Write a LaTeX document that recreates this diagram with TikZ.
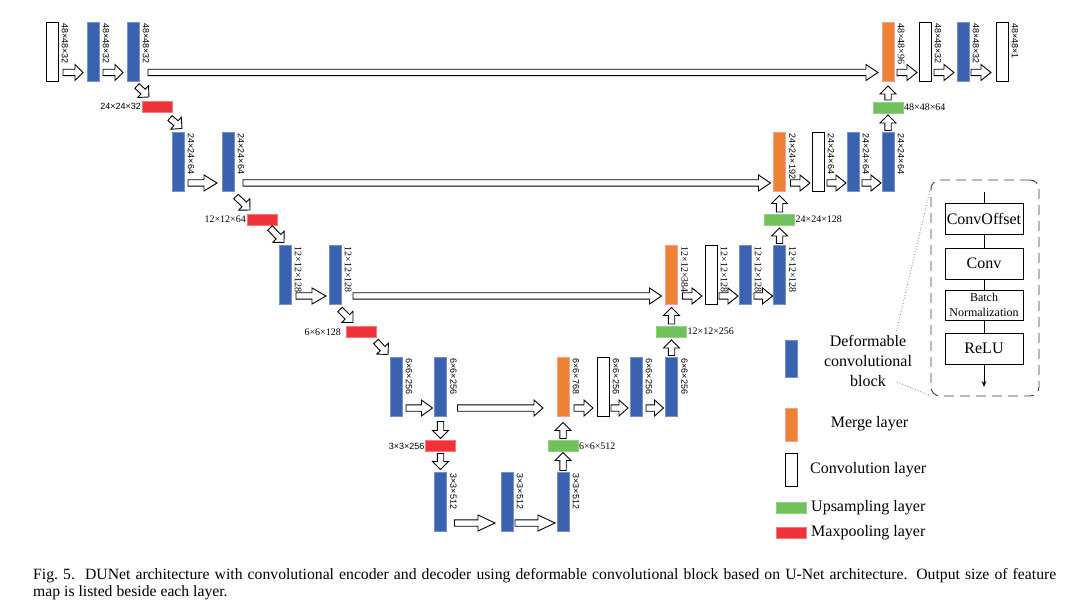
\documentclass[tikz,border=0pt]{standalone}
\usepackage{fontspec}
\setmainfont{Liberation Serif}
\newfontfamily\lsans{Liberation Sans}
\usetikzlibrary{calc,arrows.meta}
\definecolor{dblue}{HTML}{3A62AE}
\definecolor{dblueb}{HTML}{7392CC}
\definecolor{morange}{HTML}{EE8234}
\definecolor{morangeb}{HTML}{F4A090}
\definecolor{ugreen}{HTML}{70C15C}
\definecolor{ugreenb}{HTML}{92D27E}
\definecolor{pred}{HTML}{EE3237}
\definecolor{predb}{HTML}{F27A7A}
\definecolor{dashc}{HTML}{404040}
\tikzset{
  blk/.style={minimum width=12pt, minimum height=59pt, inner sep=0pt, outer sep=0pt, line width=0.6pt},
  dcb/.style={blk, fill=dblue, draw=dblueb},
  mrg/.style={blk, fill=morange, draw=morangeb},
  cnv/.style={blk, fill=white, draw=black, line width=0.9pt},
  hblk/.style={minimum width=30pt, minimum height=11pt, inner sep=0pt, outer sep=0pt, line width=0.6pt},
  ups/.style={hblk, fill=ugreen, draw=ugreenb},
  mxp/.style={hblk, fill=pred, draw=predb},
  vls/.style={rotate=-90, anchor=south west, inner sep=1pt, font=\lsans\fontsize{9}{10}\selectfont},
  vlr/.style={rotate=-90, anchor=south west, inner sep=1pt, font=\fontsize{10}{11}\selectfont},
  hls/.style={inner sep=1pt, font=\lsans\fontsize{9}{10}\selectfont},
  hlr/.style={inner sep=1pt, font=\fontsize{10}{11}\selectfont},
  barr/.style={draw=black, fill=white, line width=0.9pt, line join=miter},
  subbox/.style={draw=black, line width=0.8pt, minimum width=78pt, minimum height=31pt, inner sep=0pt, font=\fontsize{16}{18}\selectfont},
  legtxt/.style={inner sep=0pt, font=\fontsize{16}{20}\selectfont},
}
\newcommand\blkarrow[3][9]{%
  \draw[barr] let \p1=#2, \p2=#3,
    \n1={atan2(\y2-\y1,\x2-\x1)}, \n2={veclen(\x2-\x1,\y2-\y1)} in
    [shift={(\x1,\y1)}, rotate=\n1]
    (0,-3.2) -- (\n2-#1,-3.2) -- (\n2-#1,-8) -- (\n2,0) -- (\n2-#1,8) -- (\n2-#1,3.2) -- (0,3.2) -- cycle;}
\newcommand\arrH[5][9]{\blkarrow[#1]{($(#2.south east)+(#4,-8.5)$)}{($(#3.south west)+(-#5,-8.5)$)}}
\newcommand\arrD[5][8]{\blkarrow[#1]{($(#2.south)+(0,#4)$)}{($(#3.north)+(0,-#5)$)}}
\newcommand\arrU[5][8]{\blkarrow[#1]{($(#2.north)+(0,-#4)$)}{($(#3.south)+(0,#5)$)}}
\newcommand\vlab[3][vls]{\node[#1] (l#2) at ($(#2.north east)+(2.5,0)$) {#3};}
\begin{document}
\begin{tikzpicture}[x=1pt,y=-1pt]
\fill[white] (0,0) rectangle (1090,612);
\useasboundingbox (0,0) rectangle (1090,612);
% ---------- encoder ----------
\node[cnv] (in1) at (52,51.5) {};
\node[dcb] (e1a) at (93,51.5) {};
\node[dcb] (e1b) at (133,51.5) {};
\node[mxp] (p1) at (157,106.5) {};
\node[dcb] (e2a) at (178,162) {};
\node[dcb] (e2b) at (228,162) {};
\node[mxp] (p2) at (262,219.5) {};
\node[dcb] (e3a) at (285,275) {};
\node[dcb] (e3b) at (335,275) {};
\node[mxp] (p3) at (361,332) {};
\node[dcb] (e4a) at (396,387) {};
\node[dcb] (e4b) at (440.5,387) {};
\node[mxp] (p4) at (440.5,446) {};
\node[dcb] (b5a) at (440.5,502) {};
\node[dcb] (b5b) at (507,502) {};
\node[dcb] (b5c) at (563,502) {};
% ---------- decoder ----------
\node[ups] (u4) at (563,446) {};
\node[mrg] (m4) at (563,387) {};
\node[cnv] (c4) at (603,387) {};
\node[dcb] (d4a) at (636,387) {};
\node[dcb] (d4b) at (671.5,387) {};
\node[ups] (u3) at (671.5,331.5) {};
\node[mrg] (m3) at (671.5,275) {};
\node[cnv] (c3) at (711,275) {};
\node[dcb] (d3a) at (745,275) {};
\node[dcb] (d3b) at (779.5,275) {};
\node[ups] (u2) at (779.5,219.5) {};
\node[mrg] (m2) at (779.5,162) {};
\node[cnv] (c2) at (818,162) {};
\node[dcb] (d2a) at (853,162) {};
\node[dcb] (d2b) at (888,162) {};
\node[ups] (u1) at (888,107.5) {};
\node[mrg] (m1) at (888,51.5) {};
\node[cnv] (c1) at (925,51.5) {};
\node[dcb] (d1) at (963,51.5) {};
\node[cnv] (out) at (1002,51.5) {};
% ---------- vertical labels ----------
\vlab{in1}{48×48×32}
\vlab{e1a}{48×48×32}
\vlab{e1b}{48×48×32}
\vlab{e2a}{24×24×64}
\vlab{e2b}{24×24×64}
\vlab[vlr]{e3a}{12×12×128}
\vlab[vlr]{e3b}{12×12×128}
\vlab{e4a}{6×6×256}
\vlab{e4b}{6×6×256}
\vlab{b5a}{3×3×512}
\vlab{b5b}{3×3×512}
\vlab{b5c}{3×3×512}
\vlab{m4}{6×6×768}
\vlab{c4}{6×6×256}
\vlab{d4a}{6×6×256}
\vlab{d4b}{6×6×256}
\vlab[vlr]{m3}{12×12×384}
\vlab[vlr]{c3}{12×12×128}
\vlab[vlr]{d3a}{12×12×128}
\vlab[vlr]{d3b}{12×12×128}
\vlab{m2}{24×24×192}
\vlab{c2}{24×24×64}
\vlab{d2a}{24×24×64}
\vlab{d2b}{24×24×64}
\vlab[vlr]{m1}{48×48×96}
\vlab{c1}{48×48×32}
\vlab{d1}{48×48×32}
\vlab{out}{48×48×1}
% ---------- horizontal labels ----------
\node[hls, anchor=east] (lp1) at (p1.west) {24×24×32};
\node[hlr, anchor=east] (lp2) at (p2.west) {12×12×64};
\node[hlr, anchor=east, xshift=-4pt] (lp3) at (p3.west) {6×6×128};
\node[hls, anchor=east] (lp4) at (p4.west) {3×3×256};
\node[hlr, anchor=west] (lu4) at (u4.east) {6×6×512};
\node[hlr, anchor=west] (lu3) at (u3.east) {12×12×256};
\node[hlr, anchor=west] (lu2) at (u2.east) {24×24×128};
\node[hlr, anchor=west] (lu1) at (u1.east) {48×48×64};
% ---------- horizontal arrows ----------
\arrH[8]{in1}{e1a}{5}{4}
\arrH[8]{e1a}{e1b}{4}{4}
\arrH[12]{e1b}{m1}{9}{4}
\arrH[13]{e2a}{e2b}{4}{5}
\arrH[12]{e2b}{m2}{9}{3}
\arrH[14]{e3a}{e3b}{5}{3}
\arrH[12]{e3b}{m3}{12}{4}
\arrH[11]{e4a}{e4b}{4}{2}
\arrH[9]{e4b}{m4}{11}{14}
\arrH[17]{b5a}{b5b}{8}{6}
\arrH[17]{b5b}{b5c}{2}{2}
\arrH[9]{m4}{c4}{5}{4}
\arrH[9]{c4}{d4a}{2}{2}
\arrH[9]{d4a}{d4b}{4}{2}
\arrH[10]{m3}{c3}{5}{3}
\arrH[10]{c3}{d3a}{2}{1}
\arrH[10]{d3a}{d3b}{3}{1}
\arrH[10]{m2}{c2}{5}{2}
\arrH[10]{c2}{d2a}{3}{1}
\arrH[10]{d2a}{d2b}{3}{1}
\arrH[10]{m1}{c1}{3}{2}
\arrH[10]{c1}{d1}{3}{3}
\arrH[10]{d1}{out}{2}{5}
% ---------- vertical arrows ----------
\arrD{e4b}{p4}{5}{2}
\arrD{p4}{b5a}{2}{3}
\arrU{b5c}{u4}{2}{1}
\arrU{u4}{m4}{2}{6}
\arrU{d4b}{u3}{2}{3}
\arrU{u3}{m3}{2}{3}
\arrU{d3b}{u2}{2}{3}
\arrU{u2}{m2}{2}{4}
\arrU{d2b}{u1}{2}{2}
\arrU{u1}{m1}{2}{5}
% ---------- diagonal arrows ----------
\blkarrow[8]{($(e1b.south east)+(-2,5)$)}{($(p1.north west)+(7,-4)$)}
\blkarrow[8]{($(p1.south east)+(-2,6)$)}{($(e2a.north east)+(-2,-4)$)}
\blkarrow[8]{($(e2b.south east)+(2,5)$)}{($(p2.north west)+(3,-4)$)}
\blkarrow[8]{($(p2.south east)+(-7,3)$)}{($(e3a.north east)+(-7,-3)$)}
\blkarrow[8]{($(e3b.south east)+(-1,5)$)}{($(p3.north west)+(7,-4)$)}
\blkarrow[8]{($(p3.south east)+(0,4)$)}{($(e4a.north west)+(-2,-3)$)}
% ---------- legend ----------
\node[dcb, minimum height=37pt] (lgb) at (791,358.5) {};
\node[mrg, minimum height=33pt] (lgo) at (791,424.5) {};
\node[cnv, minimum height=33pt] (lgc) at (791,469.5) {};
\node[ups] (lgg) at (791,507.5) {};
\node[mxp] (lgr) at (791,532.5) {};
\node[legtxt, align=center] (tdcb) at (868,361) {Deformable\\convolutional\\block};
\node[legtxt] (tmrg) at (869.5,424) {Merge layer};
\node[legtxt, anchor=west] (tcnv) at (810,470) {Convolution layer};
\node[legtxt, anchor=west] (tups) at (811,508) {Upsampling layer};
\node[legtxt, anchor=west] (tmxp) at (811,533) {Maxpooling layer};
% ---------- deformable block detail ----------
\node[draw=dashc, dash pattern=on 10pt off 6pt, line width=0.9pt, rounded corners=9pt,
      minimum width=108pt, minimum height=216pt, inner sep=0pt] (dbox) at (985,288) {};
\node[subbox] (co) at (984,218.5) {ConvOffset};
\node[subbox] (cv) at (984,263.5) {Conv};
\node[subbox, minimum height=30pt, align=center, font=\fontsize{12}{15}\selectfont] (bn) at (984,305) {Batch\\Normalization};
\node[subbox] (rl) at (984,348.5) {ReLU};
\coordinate (din) at (984,192);
\coordinate (dout) at (984,387);
\draw[line width=0.8pt] (din) -- (co);
\draw[line width=0.8pt] (co) -- (cv);
\draw[line width=0.8pt] (cv) -- (bn);
\draw[line width=0.8pt] (bn) -- (rl);
\draw[line width=0.8pt, -{Stealth[length=6pt,width=4.5pt]}] (rl) -- (dout);
\coordinate (zt1) at (931,186);
\coordinate (zt2) at (896,333);
\coordinate (zb1) at (897,382);
\coordinate (zb2) at (931,396);
\draw[gray, dotted, line width=0.8pt] (zt1) -- (zt2);
\draw[gray, dotted, line width=0.8pt] (zb1) -- (zb2);
% ---------- caption ----------
\node[anchor=north west, text width=1023pt, align=justify, inner sep=0pt,
      font=\fontsize{15.7}{17}\selectfont] (cap) at (33,568)
  {Fig.~5.\ \ DUNet architecture with convolutional encoder and decoder using deformable convolutional block based on U-Net architecture. Output size of feature\linebreak map is listed beside each layer.};
\end{tikzpicture}
\end{document}
